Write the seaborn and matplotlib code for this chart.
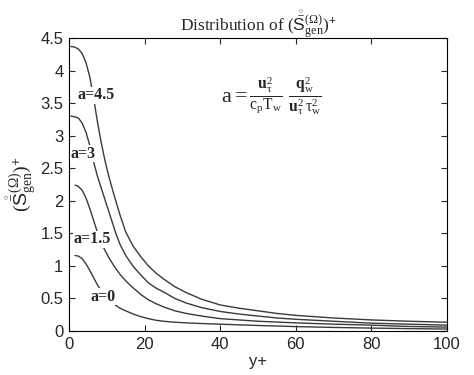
import numpy as np
import pandas as pd
import seaborn as sns
import matplotlib.pyplot as plt

# valores (y+ frente a S_gen+)
x_a45 = [0.5, 1.5, 2.5, 3.5, 4.5, 5.5, 6.5, 7.5, 8.5, 9.5, 10.5, 12, 13.5, 15, 17, 19, 21, 23, 25, 28,
         31, 35, 40, 45, 50, 55, 60, 70, 80, 90, 100]
y_a45 = [4.37, 4.36, 4.33, 4.26, 4.12, 3.90, 3.58, 3.22, 2.90, 2.62, 2.38, 2.07, 1.78, 1.52, 1.30, 1.14,
         1.00, 0.89, 0.80, 0.68, 0.59, 0.49, 0.40, 0.35, 0.31, 0.27, 0.24, 0.20, 0.17, 0.15, 0.135]

x_a3 = [0.5, 1.5, 2.5, 3.5, 4.5, 5.5, 6.5, 7.5, 8.5, 9.5, 10.5, 11.5, 12.5, 13.5, 15, 17, 19, 21, 23, 25,
        28, 31, 35, 40, 45, 50, 55, 60, 70, 80, 90, 100]
y_a3 = [3.30, 3.29, 3.27, 3.19, 3.05, 2.85, 2.60, 2.38, 2.20, 2.02, 1.84, 1.66, 1.48, 1.33, 1.16, 0.99,
        0.86, 0.74, 0.66, 0.60, 0.50, 0.43, 0.36, 0.30, 0.26, 0.23, 0.20, 0.18, 0.15, 0.12, 0.105, 0.09]

x_a15 = [1.6, 2.5, 3.5, 4.5, 5.5, 6.5, 7.5, 8.5, 9.5, 10.5, 12, 13.5, 15, 17, 19, 21, 23, 25, 28, 31,
         35, 40, 45, 50, 60, 70, 80, 90, 100]
y_a15 = [2.24, 2.22, 2.16, 2.04, 1.88, 1.70, 1.52, 1.36, 1.24, 1.13, 0.99, 0.87, 0.77, 0.66, 0.56, 0.48,
         0.42, 0.37, 0.31, 0.27, 0.23, 0.19, 0.17, 0.15, 0.125, 0.105, 0.09, 0.07, 0.06]

x_a0 = [1.6, 2.5, 3.5, 4.5, 5.5, 6.5, 7.5, 8.5, 9.5, 10.5, 12, 13.5, 15, 17, 19, 21, 23, 25, 28, 31,
        35, 40, 50, 60, 70, 80, 90, 100]
y_a0 = [1.16, 1.15, 1.11, 1.03, 0.93, 0.82, 0.71, 0.62, 0.55, 0.48, 0.41, 0.35, 0.31, 0.26, 0.22, 0.19,
        0.165, 0.15, 0.135, 0.125, 0.115, 0.105, 0.085, 0.068, 0.055, 0.045, 0.037, 0.03]

etiquetas = ['a=4.5', 'a=3', 'a=1.5', 'a=0']
pos_etiquetas = [(7.1, 3.62), (3.7, 2.72), (6.1, 1.41), (9.0, 0.53)]

curvas = [(x_a45, y_a45), (x_a3, y_a3), (x_a15, y_a15), (x_a0, y_a0)]
df = pd.concat([pd.DataFrame({'y+': xs, 'S': ys, 'a': lab}) for (xs, ys), lab in zip(curvas, etiquetas)])

sns.set_style('ticks')
plt.rcParams['font.family'] = ['Liberation Sans', 'DejaVu Sans']
plt.rcParams['mathtext.fontset'] = 'custom'
plt.rcParams['mathtext.rm'] = 'Liberation Serif'
plt.rcParams['mathtext.it'] = 'Liberation Serif:italic'
plt.rcParams['mathtext.bf'] = 'Liberation Serif:bold'
plt.rcParams['mathtext.sf'] = 'Liberation Sans'

fig = plt.figure(figsize=(4.74, 3.75), dpi=100)
ax = fig.add_axes([0.1456, 0.1173, 0.7975, 0.7814])

sns.lineplot(data=df, x='y+', y='S', units='a', estimator=None, sort=False,
             color='#3a3a3a', linewidth=1.0, ax=ax, legend=False)

for lab, (px, py) in zip(etiquetas, pos_etiquetas):
    ax.text(px, py, lab, family='Liberation Serif', fontsize=11.5, fontweight='bold',
            ha='center', va='center', zorder=5,
            bbox=dict(facecolor='white', edgecolor='none', pad=0.3))

formula = (r'$\mathrm{a} = \frac{\mathbf{u}_{\mathrm{\tau}}^{2}}{\mathrm{c_{p}T_{w}}}\ '
           r'\frac{\mathbf{q}_{\mathrm{w}}^{2}}{\mathbf{u}_{\mathrm{\tau}}^{2}\,\mathrm{\tau}_{\mathrm{w}}^{2}}$')
ax.text(53.5, 3.6, formula, fontsize=16, ha='center', va='center')

ax.set_xlim(0, 100)
ax.set_ylim(0, 4.5)
ax.set_xticks([0, 20, 40, 60, 80, 100])
ax.set_yticks([0, 0.5, 1, 1.5, 2, 2.5, 3, 3.5, 4, 4.5])
ax.set_yticklabels(['0', '0.5', '1', '1.5', '2', '2.5', '3', '3.5', '4', '4.5'])
ax.tick_params(direction='in', top=True, right=True, labelsize=12, length=4, width=0.8, pad=4)
for s in ax.spines.values():
    s.set_linewidth(0.8)
    s.set_color('black')

ax.set_xlabel('y+', fontsize=12, labelpad=2)
ax.set_ylabel(r'$(\mathring{\bar{\mathsf{S}}}^{(\Omega)}_{\mathrm{gen}})^{\mathbf{+}}$', fontsize=14, labelpad=2)
ax.set_title(r'Distribution of $(\mathring{\bar{\mathsf{S}}}^{(\Omega)}_{\mathrm{gen}})^{\mathbf{+}}$',
             family='Liberation Serif', fontsize=12.5, pad=5)

fig.savefig('out.png', dpi=100, facecolor='white')
